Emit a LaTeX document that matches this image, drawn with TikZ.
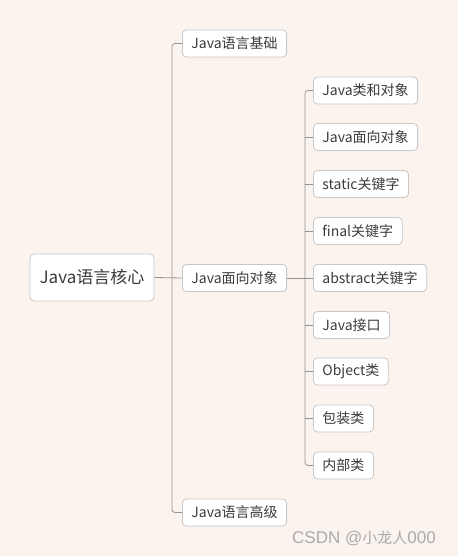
\documentclass[tikz,border=0pt]{standalone}
\usepackage{fontspec}
\setmainfont{Noto Sans CJK SC}
\newfontfamily\markfont{Liberation Sans}
\usepackage{xcolor}
\usetikzlibrary{positioning}
\definecolor{bgcol}{HTML}{FBF3EE}
\definecolor{boxcol}{HTML}{C8C8C8}
\definecolor{linecol}{HTML}{939393}
\definecolor{txtcol}{HTML}{3C3C3C}
\definecolor{markcol}{HTML}{ABABAB}

\begin{document}
\begin{tikzpicture}[x=1pt,y=-1pt]
\tikzstyle{every node}+=[text=txtcol, font=\fontsize{14}{16}\selectfont]
\tikzstyle{topic}=[draw=boxcol, fill=white, rounded corners=4, line width=0.8, minimum height=27, inner xsep=9, inner ysep=0]
\tikzstyle{link}=[draw=linecol, line width=0.8, rounded corners=3]
\fill [bgcol] (0,0) rectangle (458,556);
% root
\node [topic, minimum width=124, minimum height=47, font=\fontsize{17}{19}\selectfont] (root) at (92,277.5) {Java语言核心};
% first level
\node [topic, anchor=west] (base) at (182,43.5) {Java语言基础};
\node [topic, anchor=west] (oop) at (182,278) {Java面向对象};
\node [topic, anchor=west] (adv) at (182,512.5) {Java语言高级};
\coordinate (trunk) at (172,278);
\draw [link] (base.west) -| (trunk) |- (adv.west);
\draw [link] (root.east) -- (oop.west);
% second level
\node [topic, anchor=west] (cls) at (313,90.5) {Java类和对象};
\node [topic, anchor=west] (obj) at (313,137) {Java面向对象};
\node [topic, anchor=west] (stat) at (313,184) {static关键字};
\node [topic, anchor=west] (fin) at (313,231) {final关键字};
\node [topic, anchor=west] (abst) at (313,278) {abstract关键字};
\node [topic, anchor=west] (intf) at (313,325) {Java接口};
\node [topic, anchor=west] (objc) at (313,371.5) {Object类};
\node [topic, anchor=west] (wrap) at (313,418.5) {包装类};
\node [topic, anchor=west] (inner) at (313,465.5) {内部类};
\coordinate (branch) at (305,278);
\draw [link] (cls.west) -| (branch) |- (inner.west);
\draw [link] (oop.east) -- (abst.west);
\foreach \n in {obj,stat,fin,intf,objc,wrap}
  \draw [link] (\n.west) -- (\n.west -| branch);
% watermark
\node [text=markcol, anchor=west, inner sep=0] (mark) at (292,538.5)
  {{\markfont\fontsize{17}{19}\selectfont CSDN @}{\fontsize{15}{17}\selectfont 小龙人}{\markfont\fontsize{17}{19}\selectfont 000}};
\end{tikzpicture}
\end{document}
